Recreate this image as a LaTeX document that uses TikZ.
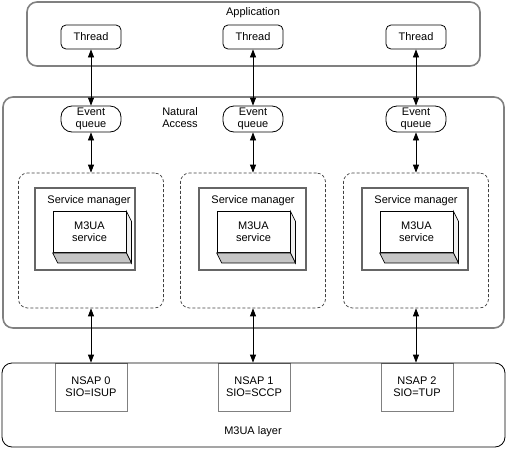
\documentclass[tikz,border=0pt]{standalone}
\usepackage{fontspec}
\setmainfont{Liberation Sans}
\usetikzlibrary{arrows.meta,calc}

\begin{document}
\begin{tikzpicture}[
  x=1pt,y=-1pt,
  font=\fontsize{11}{12}\selectfont,
  layer/.style={draw=black!50,line width=1.6pt,rounded corners=10pt,inner sep=0pt},
  thread/.style={draw,line width=0.8pt,rounded corners=5pt,minimum width=60pt,minimum height=24pt,inner sep=0pt},
  evq/.style={draw,line width=0.8pt,rounded corners=11pt,minimum width=60pt,minimum height=26pt,inner sep=0pt,align=center},
  svcgroup/.style={draw=black!75,line width=0.7pt,dash pattern=on 3pt off 2pt,rounded corners=9pt,minimum width=145pt,minimum height=135pt,inner sep=0pt},
  svcmgr/.style={draw=black!60,line width=1.3pt,minimum height=82pt,inner sep=0pt},
  m3ua/.style={draw,line width=0.8pt,fill=white,minimum width=73pt,minimum height=41pt,inner sep=0pt,align=center},
  nsap/.style={draw=black!50,line width=0.8pt,minimum width=72pt,minimum height=48pt,inner sep=0pt,align=center},
  side/.style={draw,line width=0.7pt,fill=gray!12},
  base/.style={draw,line width=0.7pt,fill=gray!45},
  arr/.style={{Triangle[length=8pt,width=6pt]}-{Triangle[length=8pt,width=6pt]},line width=0.8pt},
]
\useasboundingbox (0,0) rectangle (507,448);

% ===== Application =====
\node[layer,minimum width=453pt,minimum height=64pt] (app) at (253.5,34) {};
\node (apptxt) at (253,13) {Application};
\node[thread] (t1) at (91,37) {Thread};
\node[thread] (t2) at (253,37) {Thread};
\node[thread] (t3) at (416,37) {Thread};

% ===== Natural Access =====
\node[layer,minimum width=501pt,minimum height=231pt] (na) at (253.5,212.5) {};
\node[align=center] (natxt) at (180,118) {Natural\\Access};
\node[evq] (q1) at (91,119) {Event\\queue};
\node[evq] (q2) at (253,119) {Event\\queue};
\node[evq] (q3) at (416,119) {Event\\queue};

\node[svcgroup] (g1) at (91,240.5) {};
\node[svcgroup] (g2) at (253,240.5) {};
\node[svcgroup] (g3) at (416,240.5) {};

\node[svcmgr,minimum width=100pt] (s1) at (85,229) {};
\node[svcmgr,minimum width=107pt] (s2) at (252.5,229) {};
\node[svcmgr,minimum width=106pt] (s3) at (415,229) {};
\node (smt1) at (89,201) {Service manager};
\node (smt2) at (253,201) {Service manager};
\node (smt3) at (416,201) {Service manager};

\node[m3ua] (m1) at (89.5,232) {M3UA\\service};
\node[m3ua] (m2) at (253.5,232) {M3UA\\service};
\node[m3ua] (m3) at (416.5,232) {M3UA\\service};
\draw[side] (m1.north east) -- ++(5,10) -- ($(m1.south east)+(5,10)$) -- (m1.south east) -- cycle;
\draw[base] (m1.south west) -- ($(m1.south west)+(5,10)$) -- ($(m1.south east)+(5,10)$) -- (m1.south east) -- cycle;
\draw[side] (m2.north east) -- ++(5,10) -- ($(m2.south east)+(5,10)$) -- (m2.south east) -- cycle;
\draw[base] (m2.south west) -- ($(m2.south west)+(5,10)$) -- ($(m2.south east)+(5,10)$) -- (m2.south east) -- cycle;
\draw[side] (m3.north east) -- ++(5,10) -- ($(m3.south east)+(5,10)$) -- (m3.south east) -- cycle;
\draw[base] (m3.south west) -- ($(m3.south west)+(5,10)$) -- ($(m3.south east)+(5,10)$) -- (m3.south east) -- cycle;

% ===== M3UA layer =====
\node[nsap] (n1) at (91,387) {NSAP 0\\SIO=ISUP};
\node[nsap] (n2) at (254,387) {NSAP 1\\SIO=SCCP};
\node[nsap] (n3) at (417,387) {NSAP 2\\SIO=TUP};
\node[draw,line width=0.8pt,rounded corners=10pt,minimum width=503pt,minimum height=84pt,inner sep=0pt] (ml) at (253.5,405) {};
\node (mltxt) at (253,432) {M3UA layer};

% arrows
\draw[arr] (t1) -- (q1); \draw[arr] (t2) -- (q2); \draw[arr] (t3) -- (q3);
\draw[arr] (q1) -- (g1); \draw[arr] (q2) -- (g2); \draw[arr] (q3) -- (g3);
\draw[arr] (g1) -- (n1); \draw[arr] (g2) -- (g2 |- n2.north); \draw[arr] (g3) -- (g3 |- n3.north);
\end{tikzpicture}
\end{document}
